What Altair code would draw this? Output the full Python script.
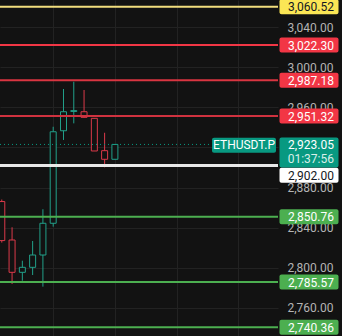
import altair as alt
import pandas as pd

# ---------------- data ----------------
idx = [-1, 0, 1, 2, 3, 4, 5, 6, 7, 8, 9, 10]
open_ = [2866.0, 2827.6, 2795.3, 2800.3, 2812.6, 2844.3, 2936.7, 2956.0, 2955.7, 2949.1, 2916.8, 2908.2]
high = [2868.0, 2840.3, 2806.9, 2826.6, 2858.3, 2940.7, 2978.4, 2985.7, 2977.4, 2949.1, 2934.7, 2923.5]
low = [2825.0, 2783.7, 2786.9, 2792.6, 2781.0, 2840.9, 2927.5, 2944.1, 2950.0, 2916.5, 2900.2, 2908.0]
close = [2827.0, 2795.3, 2800.3, 2812.6, 2844.3, 2935.7, 2955.7, 2956.8, 2950.1, 2916.5, 2908.2, 2923.05]

level_values = [3060.52, 3022.30, 2987.18, 2951.32, 2902.00, 2850.76, 2785.57, 2740.36]
level_line_colors = ["#f2de7e", "#f23645", "#d93541", "#d0323f", "#e8e8e8", "#4caf50", "#4caf50", "#4caf50"]
level_box_colors = ["#fbe655", "#f23645", "#f23645", "#f23645", "#ffffff", "#4caf50", "#4caf50", "#4caf50"]
level_text_colors = ["#131722", "#ffffff", "#ffffff", "#ffffff", "#131722", "#ffffff", "#ffffff", "#ffffff"]
level_shift = [0, 0, 0, 0, 9.7, 0, 0, 1.5]

last_price = 2923.05
symbol = "ETHUSDT.P"
countdown = "01:37:56"

y_ticks = [2760, 2800, 2840, 2880, 2920, 2960, 3000, 3040]
x_grid = [4, 10, 16, 22]

BG = "#121212"
UP = "#22a08a"
DOWN = "#db3a4a"
TEAL = "#089981"
FONT = "Roboto"

candles = pd.DataFrame({"i": idx, "open": open_, "high": high, "low": low, "close": close})
candles["dir"] = ["up" if c >= o else "down" for o, c in zip(open_, close)]
levels = pd.DataFrame({
    "v": level_values,
    "line": level_line_colors,
    "box": level_box_colors,
    "txt": level_text_colors,
    "shift": level_shift,
})
levels["label"] = [f"{v:,.2f}" for v in level_values]
price = pd.DataFrame({"v": [last_price], "label": [f"{last_price:,.2f}"], "cd": [countdown], "sym": [symbol]})

xs = alt.Scale(domain=[-0.6875, 25.375], nice=False, zero=False)
ys = alt.Scale(domain=[2731.7, 3067.3], nice=False, zero=False)
col = alt.Color("dir:N", scale=alt.Scale(domain=["up", "down"], range=[UP, DOWN]), legend=None)

xax = alt.Axis(values=x_grid, labels=False, ticks=False, domain=False, grid=True,
               gridColor="#222222", title=None)
yax = alt.Axis(values=y_ticks, orient="right", format=",.2f", labelAlign="right",
               labelPadding=55, ticks=False, tickSize=0, domain=False, grid=True,
               gridColor="#222222", labelColor="#b4b4b4", labelFont=FONT,
               labelFontSize=12, title=None)

wicks = alt.Chart(candles).mark_rule(strokeWidth=1, clip=True).encode(
    x=alt.X("i:Q", scale=xs, axis=xax),
    y=alt.Y("low:Q", scale=ys, axis=yax),
    y2="high:Q",
    color=col,
)
bodies = alt.Chart(candles).mark_bar(size=6, fill=BG, strokeWidth=1, clip=True).encode(
    x=alt.X("i:Q", scale=xs),
    y=alt.Y("open:Q", scale=ys),
    y2="close:Q",
    stroke=alt.Stroke("dir:N", scale=alt.Scale(domain=["up", "down"], range=[UP, DOWN]), legend=None),
)

lines = alt.Chart(levels).mark_rule(strokeWidth=2).encode(
    y=alt.Y("v:Q", scale=ys),
    color=alt.Color("line:N", scale=None),
)
white_line = alt.Chart(levels[levels["v"] == 2902.00]).mark_rule(strokeWidth=3).encode(
    y=alt.Y("v:Q", scale=ys),
    color=alt.Color("line:N", scale=None),
)

dotted = alt.Chart(price).mark_rule(strokeWidth=1, strokeDash=[1, 3], color=TEAL).encode(
    y=alt.Y("v:Q", scale=ys), x=alt.value(0), x2=alt.value(212)
)

boxes_main = levels[levels["v"] != 2902.00]
boxes = alt.Chart(boxes_main).mark_tick(orient="horizontal", size=59, thickness=15,
                                         cornerRadius=2, opacity=1).encode(
    y=alt.Y("v:Q", scale=ys),
    x=alt.value(309),
    color=alt.Color("box:N", scale=None),
)
box_text = alt.Chart(boxes_main).mark_text(align="right", baseline="middle", font=FONT,
                                           fontSize=12, dy=0.5).encode(
    y=alt.Y("v:Q", scale=ys),
    x=alt.value(334),
    text="label:N",
    color=alt.Color("txt:N", scale=None),
)

wl = levels[levels["v"] == 2902.00]
wbox = alt.Chart(wl).mark_tick(orient="horizontal", size=59, thickness=15, cornerRadius=2,
                               yOffset=9.7, opacity=1).encode(
    y=alt.Y("v:Q", scale=ys), x=alt.value(309), color=alt.Color("box:N", scale=None)
)
wtext = alt.Chart(wl).mark_text(align="right", baseline="middle", font=FONT, fontSize=12,
                                dy=10.2).encode(
    y=alt.Y("v:Q", scale=ys), x=alt.value(334), text="label:N",
    color=alt.Color("txt:N", scale=None)
)

pbox = alt.Chart(price).mark_tick(orient="horizontal", size=59, thickness=30, cornerRadius=2,
                                  yOffset=8, color=TEAL, opacity=1).encode(
    y=alt.Y("v:Q", scale=ys), x=alt.value(309)
)
ptext = alt.Chart(price).mark_text(align="right", baseline="middle", font=FONT, fontSize=12,
                                   dy=0.5, color="#ffffff").encode(
    y=alt.Y("v:Q", scale=ys), x=alt.value(334), text="label:N"
)
ctext = alt.Chart(price).mark_text(align="right", baseline="middle", font=FONT, fontSize=12,
                                   dy=14.5, color="#d9efe9").encode(
    y=alt.Y("v:Q", scale=ys), x=alt.value(334), text="cd:N"
)
sbox = alt.Chart(price).mark_tick(orient="horizontal", size=64, thickness=15, cornerRadius=2,
                                  yOffset=0.8, color=TEAL, opacity=1).encode(
    y=alt.Y("v:Q", scale=ys), x=alt.value(244)
)
stext = alt.Chart(price).mark_text(align="center", baseline="middle", font=FONT, fontSize=12,
                                   dy=1, color="#ffffff").encode(
    y=alt.Y("v:Q", scale=ys), x=alt.value(244), text="sym:N"
)

chart = alt.layer(
    wicks, bodies, lines, white_line, dotted,
    boxes, box_text, wbox, wtext, pbox, ptext, ctext, sbox, stext,
).properties(
    width=278, height=336,
    autosize=alt.AutoSizeParams(type="none"),
    padding={"left": 0, "right": 64, "top": 0, "bottom": 0},
    background=BG,
).configure_view(stroke=None, fill=BG)

chart.save("out.html", embed_options={"renderer": "svg", "actions": False})
